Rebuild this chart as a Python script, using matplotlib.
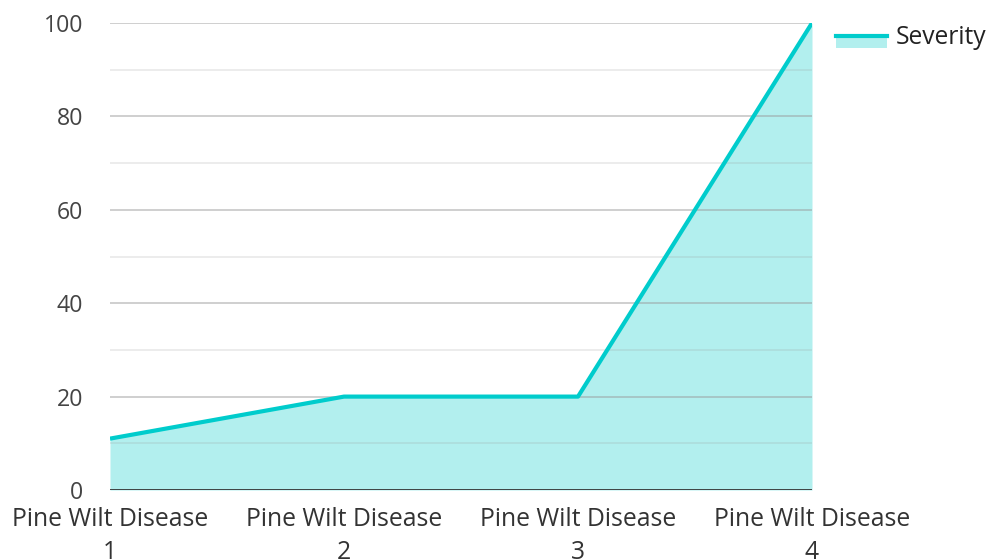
import matplotlib
matplotlib.use("Agg")
import matplotlib.pyplot as plt
from matplotlib.patches import Rectangle
from matplotlib.lines import Line2D

categories = ["Pine Wilt Disease\n1", "Pine Wilt Disease\n2", "Pine Wilt Disease\n3", "Pine Wilt Disease\n4"]
severity = [11, 20, 20, 100]
y_ticks = [0, 20, 40, 60, 80, 100]
series_name = "Severity"

plt.rcParams["font.family"] = ["Open Sans", "DejaVu Sans"]

W, H = 991, 560
fig = plt.figure(figsize=(W / 100, H / 100), dpi=100)
ax = fig.add_axes([110 / W, 1 - 490 / H, (812 - 110) / W, (490 - 23) / H])

line_color = "#00CCCC"
fill_color = "#B2EFEE"

x = list(range(len(categories)))
ax.fill_between(x, severity, 0, color=fill_color, lw=0, zorder=1)
ax.plot(x, severity, color=line_color, lw=3, zorder=4, solid_capstyle="butt")

# grid: major every 20, minor every 10, drawn above the fill
for v in range(10, 101, 10):
    if v % 20 == 0:
        ax.axhline(v, color="#999999", alpha=0.55, lw=1.2, zorder=2)
    else:
        ax.axhline(v, color="#999999", alpha=0.22, lw=1.2, zorder=2)
ax.axhline(0, color="#333333", lw=2, zorder=5)

ax.set_xlim(0, len(categories) - 1)
ax.set_ylim(0, 100)
ax.set_yticks(y_ticks)
ax.set_yticklabels([str(v) for v in y_ticks], color="#444444", fontsize=16.7)
ax.set_xticks(x)
ax.set_xticklabels(categories, color="#333333", fontsize=17.8, linespacing=1.42)
ax.tick_params(axis="both", length=0)
ax.tick_params(axis="y", pad=19.5)
ax.tick_params(axis="x", pad=12.5)
for s in ax.spines.values():
    s.set_visible(False)

# legend entry
fig.patches.append(Rectangle((836 / W, 1 - 48 / H), 51 / W, 13 / H,
                             transform=fig.transFigure, color=fill_color, lw=0))
fig.lines.append(Line2D([836 / W, 887 / W], [1 - 35.5 / H, 1 - 35.5 / H],
                        transform=fig.transFigure, color=line_color, lw=3))
fig.text(896 / W, 1 - 37 / H, series_name, fontsize=17.7, color="#222222",
         va="center", ha="left")

fig.savefig("out.png", dpi=100)
